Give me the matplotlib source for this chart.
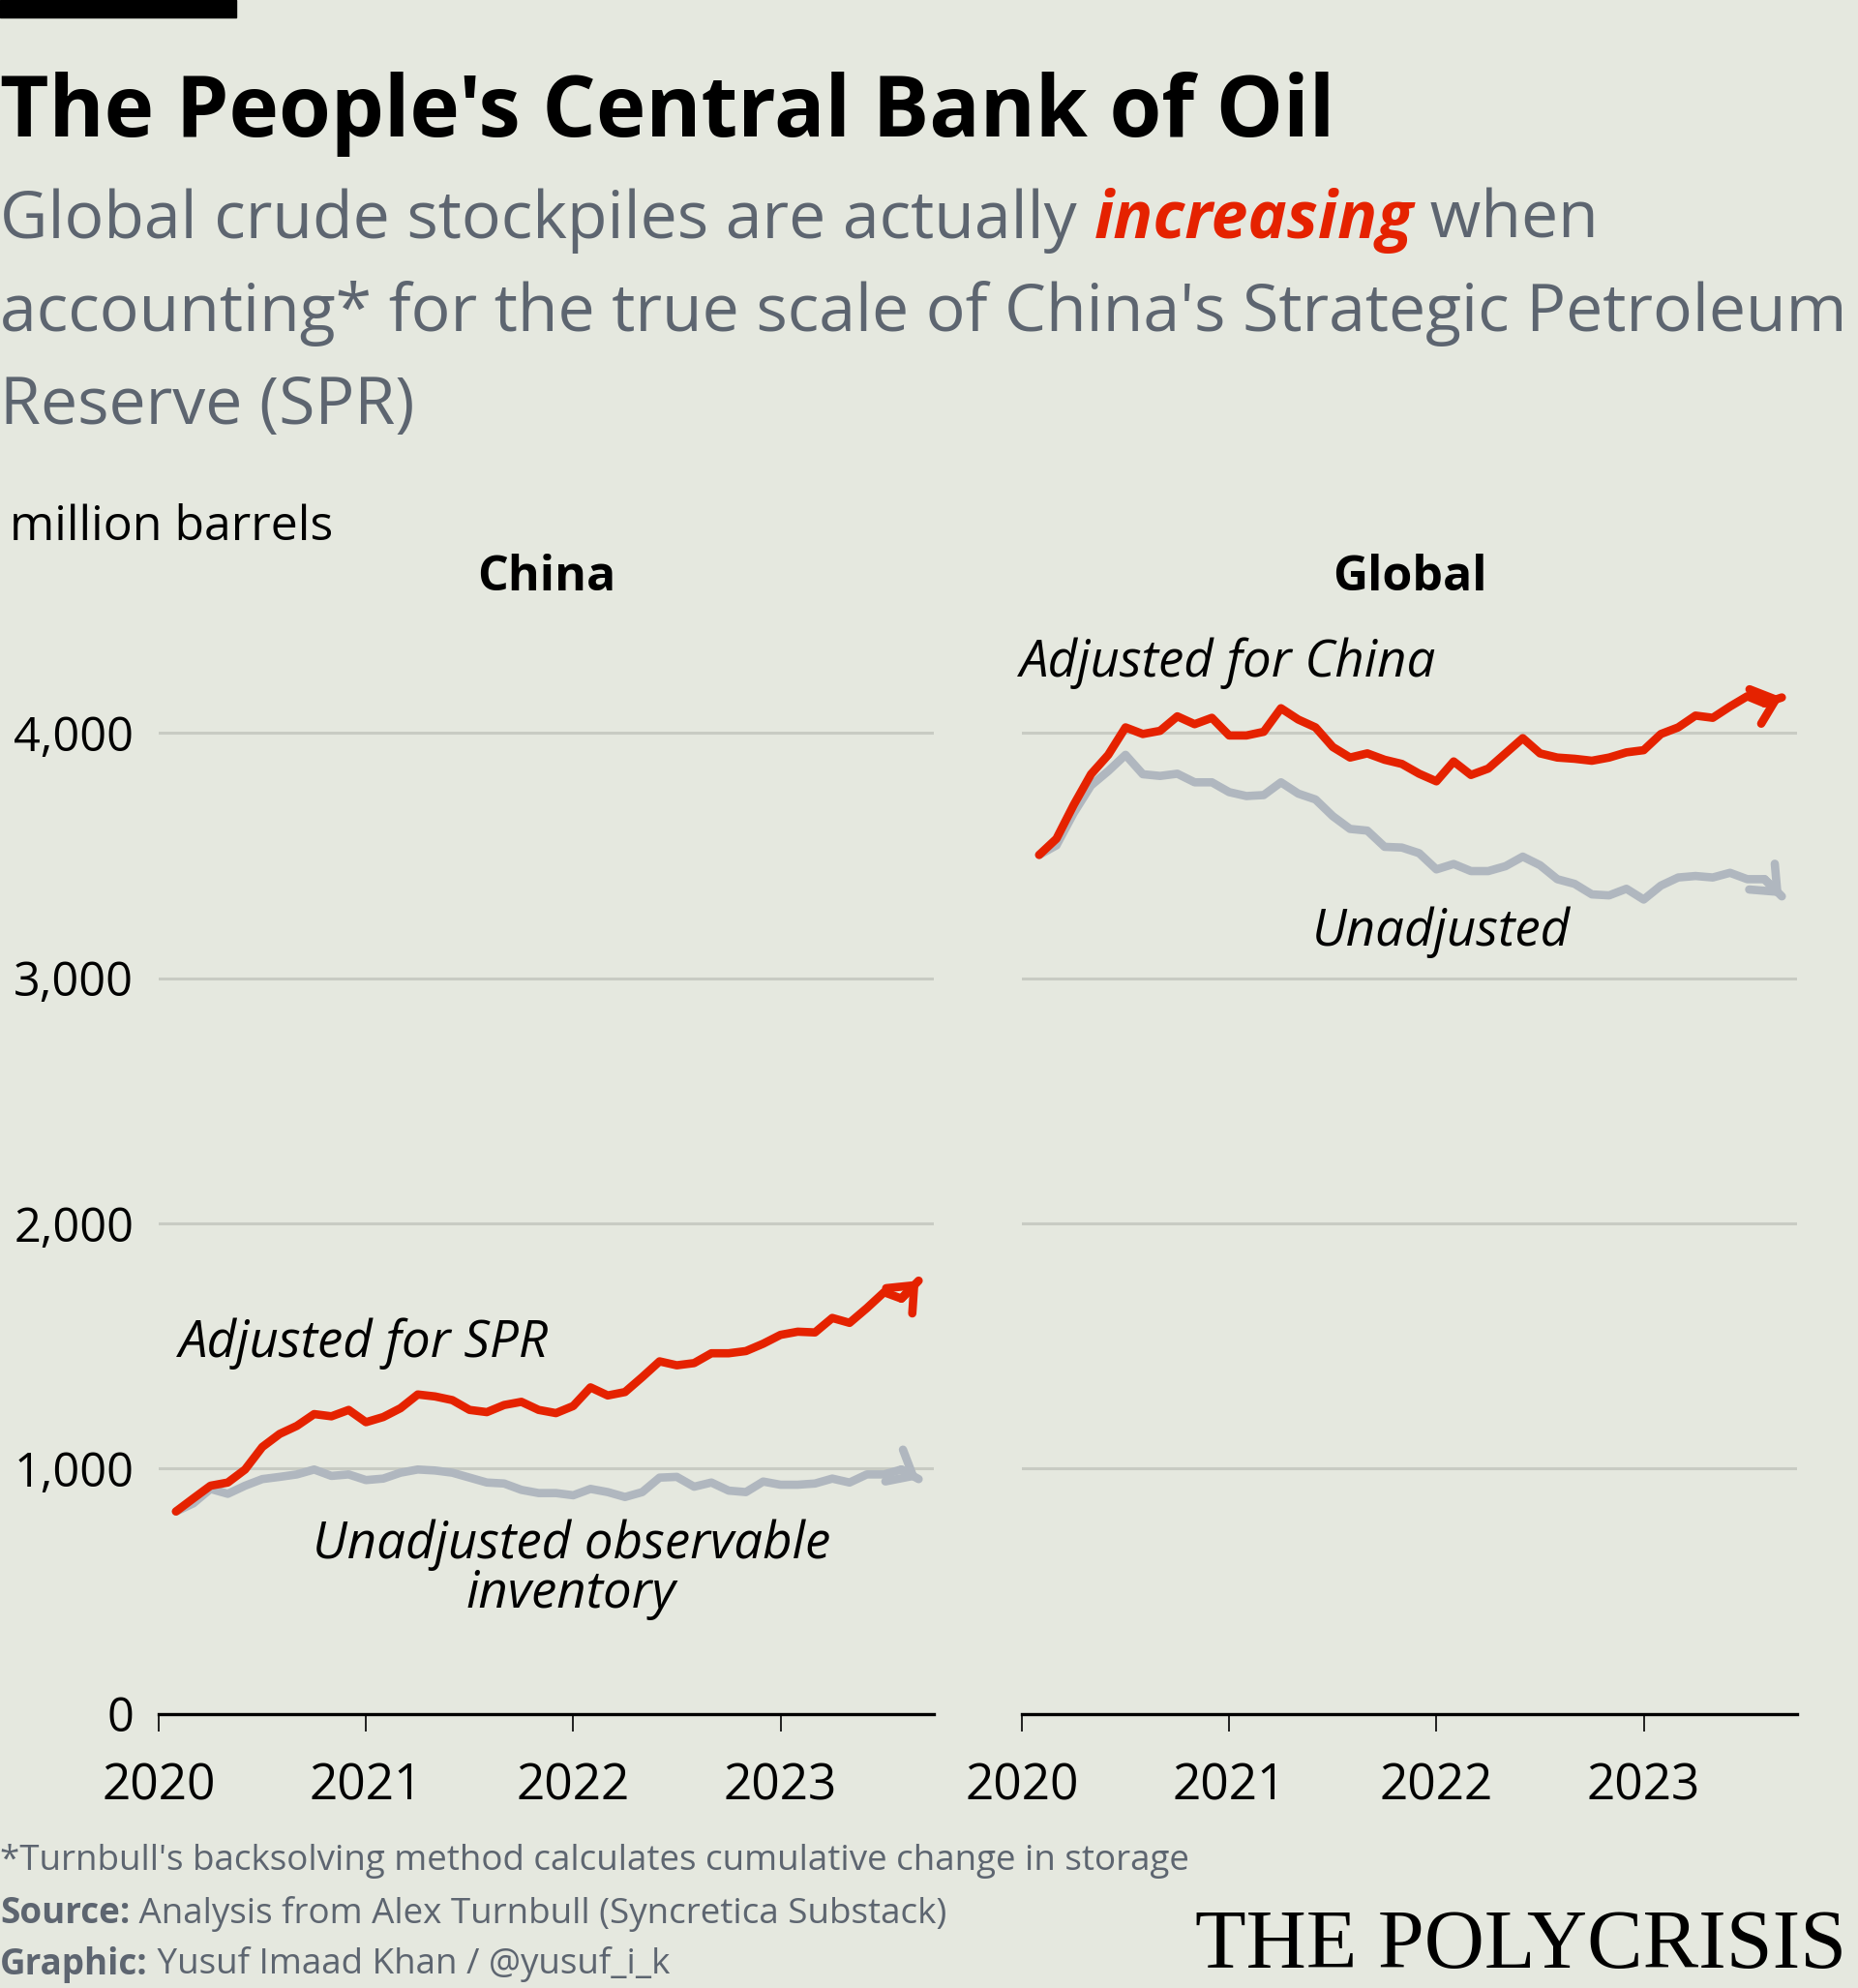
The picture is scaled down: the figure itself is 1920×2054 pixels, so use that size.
import numpy as np
import matplotlib
matplotlib.use('Agg')
import matplotlib.pyplot as plt
from matplotlib.patches import Rectangle

plt.rcParams['font.family'] = ['Open Sans', 'DejaVu Sans']

# monthly values, Feb 2020 .. Sep 2023 (million barrels)
months = np.arange(44)
years = 2020 + (months + 1) / 12

china_adjusted = [825, 878, 930, 943, 996, 1088, 1141, 1174, 1222, 1213,
                  1239, 1189, 1210, 1246, 1302, 1294, 1279, 1239, 1230, 1259,
                  1272, 1239, 1226, 1255, 1331, 1298, 1312, 1373, 1437, 1421,
                  1430, 1470, 1470, 1479, 1509, 1545, 1558, 1555, 1614, 1594,
                  1654, 1719, 1693, 1766]
china_unadjusted = [825, 858, 917, 897, 930, 957, 966, 976, 996, 970,
                    976, 953, 959, 983, 996, 992, 983, 963, 943, 939,
                    913, 900, 900, 891, 917, 904, 884, 904, 963, 966,
                    926, 943, 910, 904, 947, 934, 934, 939, 959, 943,
                    976, 976, 996, 957]
global_adjusted = [3502, 3568, 3706, 3831, 3910, 4022, 3995, 4008, 4067, 4035,
                   4061, 3989, 3989, 4004, 4100, 4054, 4022, 3942, 3899, 3916,
                   3890, 3873, 3833, 3802, 3883, 3828, 3854, 3916, 3978, 3916,
                   3899, 3894, 3886, 3899, 3920, 3929, 3995, 4022, 4070, 4061,
                   4107, 4149, 4120, 4144]
global_unadjusted = [3502, 3541, 3673, 3785, 3844, 3910, 3831, 3824, 3833, 3798,
                     3798, 3758, 3742, 3746, 3798, 3752, 3728, 3660, 3608, 3601,
                     3535, 3532, 3509, 3443, 3465, 3436, 3436, 3456, 3495, 3460,
                     3403, 3384, 3341, 3337, 3364, 3320, 3377, 3410, 3416, 3410,
                     3429, 3403, 3403, 3333]

yticks = [0, 1000, 2000, 3000, 4000]
ytick_labels = ['0', '1,000', '2,000', '3,000', '4,000']
xticks = [2020, 2021, 2022, 2023]

BG = '#e5e8df'
RED = '#e52200'
GREY = '#b0b7bf'
GRID = '#c8cbc3'
SUB = '#5d6570'

W, H = 1920, 2054
fig = plt.figure(figsize=(19.2, 20.54), dpi=100, facecolor=BG)

# black bar top left
fig.patches.append(Rectangle((0, 1 - 18 / H), 244 / W, 18 / H,
                             transform=fig.transFigure, color='black', zorder=5))

fig.text(0.0, 1 - 141 / H, "The People's Central Bank of Oil", fontsize=62.7,
         fontweight='bold', va='baseline', ha='left', color='black')

renderer = fig.canvas.get_renderer()
sub_size = 49
y1 = 1 - 246 / H
t1 = fig.text(0.0, y1, 'Global crude stockpiles are actually ', fontsize=sub_size,
              color=SUB, va='baseline', ha='left')
bb = t1.get_window_extent(renderer)
t2 = fig.text(bb.x1 / fig.bbox.width, y1, 'increasing', fontsize=sub_size, color=RED,
              fontweight='bold', style='italic', va='baseline', ha='left')
bb2 = t2.get_window_extent(renderer)
fig.text(bb2.x1 / fig.bbox.width, y1, ' when', fontsize=sub_size, color=SUB,
         va='baseline', ha='left')
fig.text(0.0, 1 - 342 / H, "accounting* for the true scale of China's Strategic Petroleum",
         fontsize=sub_size, color=SUB, va='baseline', ha='left')
fig.text(0.0, 1 - 438 / H, 'Reserve (SPR)', fontsize=sub_size, color=SUB,
         va='baseline', ha='left')

fig.text(10 / W, 1 - 545 / H, 'million barrels', fontsize=36, color='black',
         va='center', ha='left')

bottom = 1 - 1770.7 / H
height = 4.5 * 253.4 / H
ax1 = fig.add_axes([164 / W, bottom, 801 / W, height])
ax2 = fig.add_axes([1056 / W, bottom, 801 / W, height])


def style_axis(ax, title, show_y):
    ax.set_facecolor(BG)
    ax.set_xlim(2020, 2023.74)
    ax.set_ylim(0, 4500)
    for s in ['top', 'right', 'left']:
        ax.spines[s].set_visible(False)
    ax.spines['bottom'].set_linewidth(2.4)
    ax.spines['bottom'].set_color('black')
    for yv in yticks[1:]:
        ax.axhline(yv, color=GRID, lw=2.2, zorder=0)
    ax.set_xticks(xticks)
    ax.set_xticklabels([str(x) for x in xticks])
    ax.tick_params(axis='x', length=13, width=1.2, labelsize=37, pad=23, color='black')
    ax.set_yticks(yticks)
    if show_y:
        ax.set_yticklabels(ytick_labels)
        ax.tick_params(axis='y', length=0, labelsize=35, pad=18.5)
    else:
        ax.tick_params(axis='y', length=0, labelleft=False)
    ax.text(0.5, (1770.7 - 597) / 1140.3, title, transform=ax.transAxes,
            fontsize=36, fontweight='bold', ha='center', va='center')


def draw_line(ax, x, y, color, z):
    ax.plot(x, y, color=color, lw=6.2, solid_capstyle='round',
            solid_joinstyle='round', zorder=z, clip_on=False)
    ax.annotate('', xy=(x[-1], y[-1]), xytext=(x[-2], y[-2]),
                arrowprops=dict(arrowstyle='->,head_length=1.6,head_width=1.35',
                                color=color, lw=6.2, shrinkA=0, shrinkB=0,
                                mutation_scale=10, capstyle='round',
                                joinstyle='round'),
                zorder=z, annotation_clip=False)


style_axis(ax1, 'China', True)
style_axis(ax2, 'Global', False)

draw_line(ax1, years, china_unadjusted, GREY, 3)
draw_line(ax1, years, china_adjusted, RED, 4)
draw_line(ax2, years, global_unadjusted, GREY, 3)
draw_line(ax2, years, global_adjusted, RED, 4)

ax1.text(2020.1, 1510, 'Adjusted for SPR', fontsize=38, style='italic', ha='left', va='center')
ax1.text(2021.99, 587, 'Unadjusted observable\ninventory', fontsize=38, style='italic',
         ha='center', va='center', linespacing=0.95)
ax2.text(2019.99, 4285, 'Adjusted for China', fontsize=38, style='italic', ha='left', va='center')
ax2.text(2021.4, 3185, 'Unadjusted', fontsize=38, style='italic', ha='left', va='center')

# footer
fs = 26.5
fig.text(0.0, 1 - 1923 / H, "*Turnbull's backsolving method calculates cumulative change in storage",
         fontsize=fs, color=SUB, va='center', ha='left')
s1 = fig.text(0.0, 1 - 1977 / H, 'Source:', fontsize=fs, color=SUB, fontweight='bold',
              va='center', ha='left')
b = s1.get_window_extent(renderer)
fig.text(b.x1 / fig.bbox.width, 1 - 1977 / H, ' Analysis from Alex Turnbull (Syncretica Substack)',
         fontsize=fs, color=SUB, va='center', ha='left')
g1 = fig.text(0.0, 1 - 2030 / H, 'Graphic:', fontsize=fs, color=SUB, fontweight='bold',
              va='center', ha='left')
b = g1.get_window_extent(renderer)
fig.text(b.x1 / fig.bbox.width, 1 - 2030 / H, ' Yusuf Imaad Khan / @yusuf_i_k',
         fontsize=fs, color=SUB, va='center', ha='left')

fig.text(0.994, 1 - 2052 / H, 'THE POLYCRISIS', fontsize=62, family='Liberation Serif',
         color='black', ha='right', va='bottom')

fig.savefig('out.png', dpi=100, facecolor=BG)
